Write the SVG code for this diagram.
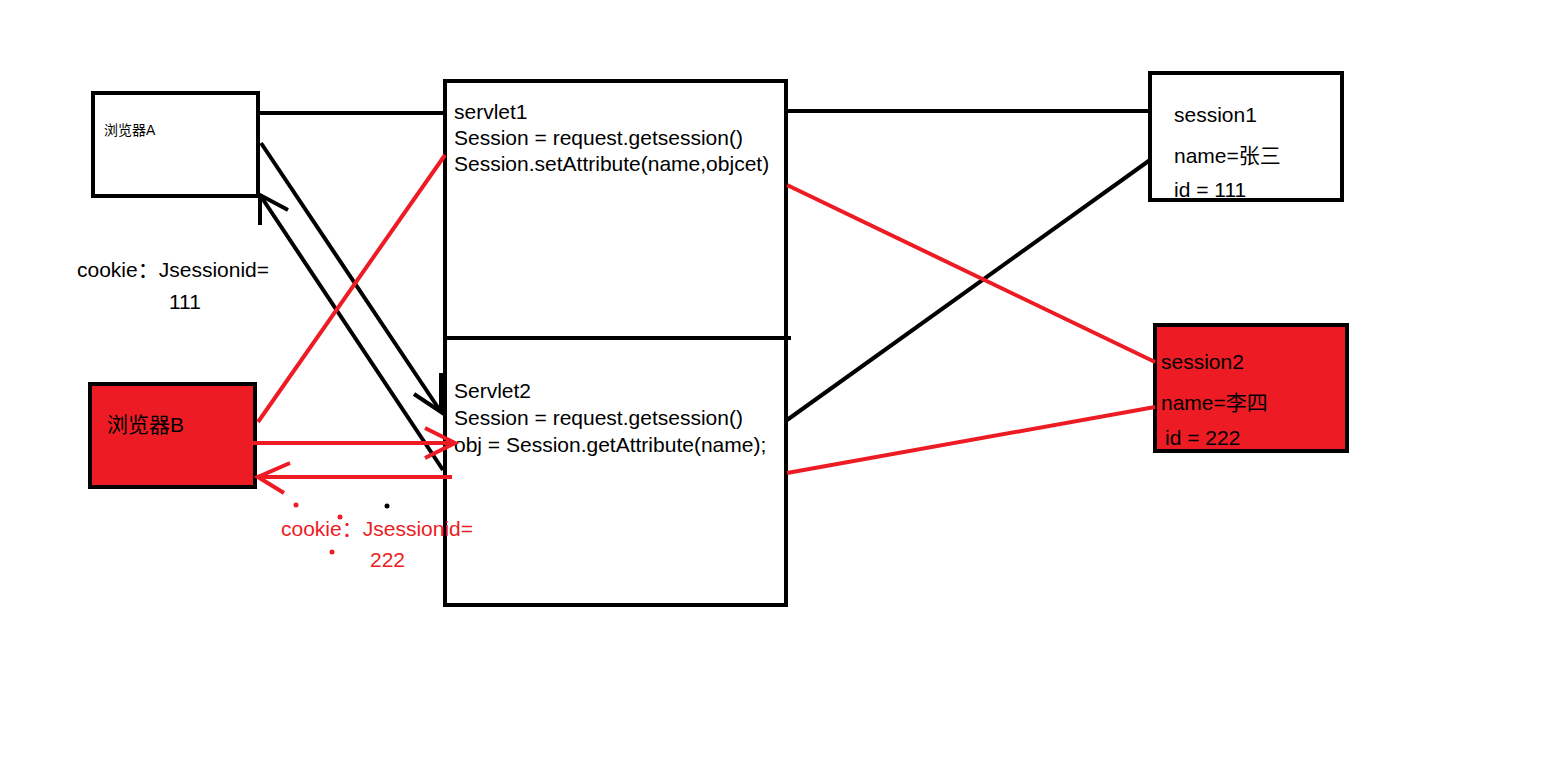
<svg xmlns="http://www.w3.org/2000/svg" width="1543" height="777" viewBox="0 0 1543 777">
<style>
.box{stroke:#000;stroke-width:4;fill:#fff}
.rbox{stroke:#000;stroke-width:4;fill:#ed1c24}
.k{stroke:#000;stroke-width:4;fill:none}
.r{stroke:#ed1c24;stroke-width:4;fill:none}
text{font-family:"Liberation Sans","Noto Sans CJK SC",sans-serif;font-size:21px;fill:#000}
.rt{fill:#ed1c24}
</style>
<rect width="1543" height="777" fill="#fff"/>
<g id="browserA"><rect class="box" x="93" y="93" width="165" height="103"/><text x="104" y="135" style="font-size:14px">浏览器A</text></g>
<g id="browserB"><rect class="rbox" x="90" y="384" width="165" height="103"/><text x="107" y="432">浏览器B</text></g>
<g id="servlet"><rect class="box" x="445" y="81" width="341" height="524"/>
<line class="k" x1="443" y1="338" x2="791" y2="338"/>
<text x="454" y="119">servlet1</text><text x="454" y="145">Session = request.getsession()</text><text x="454" y="171">Session.setAttribute(name,objcet)</text>
<text x="454" y="398">Servlet2</text><text x="454" y="425">Session = request.getsession()</text><text x="454" y="452">obj = Session.getAttribute(name);</text></g>
<g id="session1"><rect class="box" x="1150" y="73" width="192" height="127"/><text x="1174" y="122">session1</text><text x="1174" y="163">name=张三</text><text x="1174" y="197">id = 111</text></g>
<g id="session2"><rect class="rbox" x="1155" y="325" width="192" height="126"/><text x="1161" y="369">session2</text><text x="1161" y="410">name=李四</text><text x="1165" y="445">id = 222</text></g>
<g id="connectors">
<line class="k" x1="258" y1="113" x2="445" y2="113"/>
<line class="k" x1="786" y1="111" x2="1150" y2="111"/>
<line class="k" x1="787" y1="420" x2="1150" y2="160"/>
<line class="r" x1="787" y1="185" x2="1155" y2="362"/>
<line class="r" x1="787" y1="473" x2="1155" y2="407"/>
<line class="k" x1="261" y1="143" x2="441" y2="412"/>
<polyline class="k" points="414,394 441,412 441,373"/>
<line class="k" x1="443" y1="470" x2="260" y2="195"/>
<polyline class="k" points="288,210 260,195 260,225"/>
<line class="r" x1="258" y1="422" x2="445" y2="155"/>
<line class="r" x1="253" y1="443" x2="455" y2="443"/>
<polyline class="r" points="425,428 455,443 425,458"/>
<line class="r" x1="452" y1="477" x2="258" y2="477"/>
<polyline class="r" points="290,463 258,477 284,493"/>
</g>
<text x="77" y="277">cookie：Jsessionid=</text><text x="169" y="309">111</text>
<text class="rt" x="281" y="536">cookie：Jsessionid=</text><text class="rt" x="370" y="567">222</text>
<circle cx="296" cy="505" r="2.5" fill="#ed1c24"/><circle cx="340" cy="517" r="2.5" fill="#ed1c24"/><circle cx="387" cy="506" r="2.5" fill="#000"/><circle cx="332" cy="552" r="2.5" fill="#ed1c24"/>
</svg>
